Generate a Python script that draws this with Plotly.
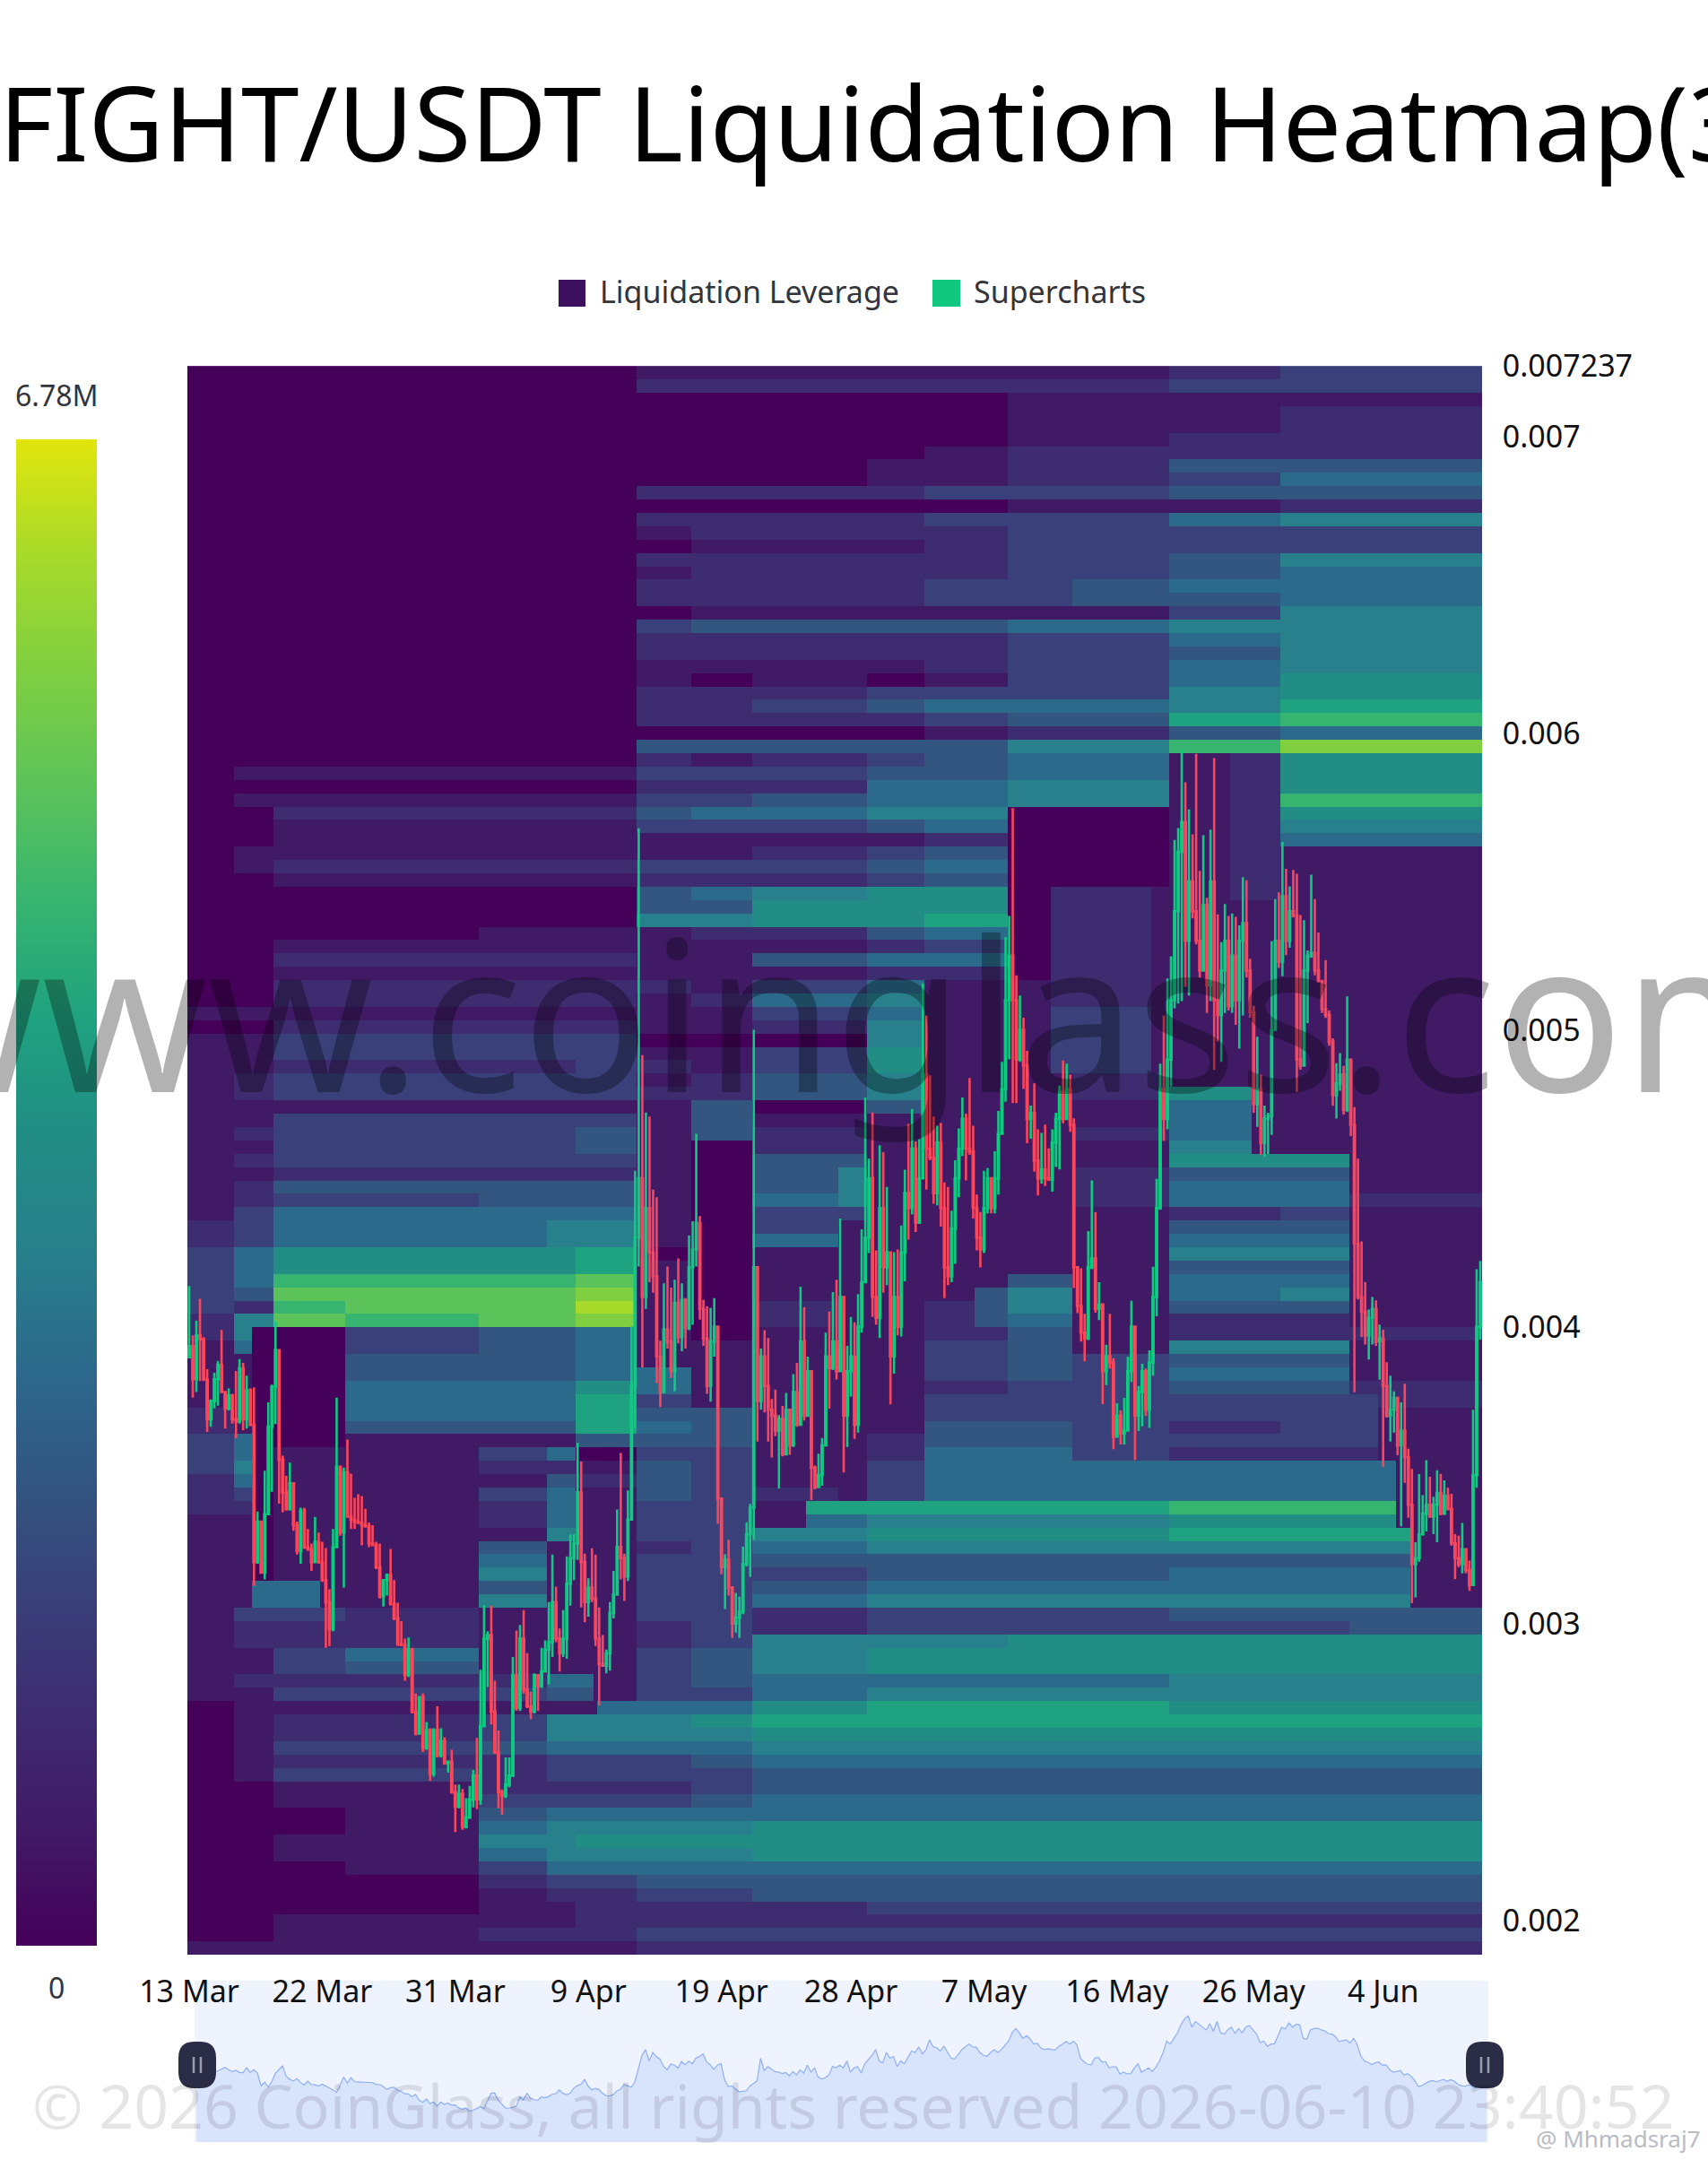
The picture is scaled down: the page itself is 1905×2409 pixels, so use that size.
import numpy as np
import pandas as pd
import plotly.graph_objects as go

W, H = 1905, 2409
def px(x): return x / W
def py(y): return 1 - y / H

title_text = "FIGHT/USDT Liquidation Heatmap(3 month)"
tick_prices = [0.002, 0.003, 0.004, 0.005, 0.006, 0.007, 0.007237]
tick_price_text = ["0.002", "0.003", "0.004", "0.005", "0.006", "0.007", "0.007237"]
tick_index = [0, 37, 74, 111, 148, 184, 221, 258, 296, 332]
tick_date_text = ["13 Mar", "22 Mar", "31 Mar", "9 Apr", "19 Apr", "28 Apr", "7 May", "16 May", "26 May", "4 Jun"]
z_max = 6.78e6
price_low, price_high = 0.001884, 0.007237

# candles, 6-hourly, in millionths of a USDT
high = [
4137,3971,4020,4094,3965,3857,3755,3845,3885,3989, 3780,3792,3774,3851,3891,3878,3835,3792,3796,3377,
3343,3515,3745,3805,4018,3915,3565,3497,3542,3476, 3343,3390,3390,3318,3269,3359,3306,3275,3254,3115,
3318,3761,3531,3525,3620,3505,3423,3435,3429,3386, 3340,3331,3275,3269,3148,3168,3251,3146,3070,3008,
2949,2953,2918,2764,2754,2764,2668,2647,2647,2721, 2647,2617,2537,2574,2457,2457,2442,2411,2453,2506,
2614,2844,3062,2974,3060,2807,2639,2441,2549,2549, 2887,2976,2995,3045,2900,2770,2832,2807,2918,2943,
3072,3232,3124,2983,3045,3226,3300,3300,3608,3546, 3235,3152,3253,3232,3054,2961,2912,3072,3177,3384,
3574,3235,3448,4001,4525,5679,4915,4722,4708,4462, 4436,3953,4146,4203,4132,4158,4230,4146,4096,4307,
4355,4650,4373,4090,4069,4064,4096,3997,3425,3233, 3282,3126,3103,3090,3259,3341,3403,5000,4185,3926,
3988,3962,3756,3788,3702,3733,3777,3702,3840,3878, 4135,4065,3899,3810,3532,3572,3625,3980,4051,4117,
4158,4364,4060,3935,4033,4015,4110,4328,4772,4566, 4722,4257,4611,4588,4471,4189,4251,4260,4341,4529,
4683,4734,4624,4632,5157,5049,4847,4708,4677,4686, 4486,4471,4391,4561,4668,4772,4718,4838,4677,4445,
4386,4525,4534,4493,4591,4727,4892,5312,5384,5747, 5184,5116,5041,4929,4745,4820,4665,4653,4681,4601,
4665,4721,4812,4897,4886,4849,4702,4202,4197,4043, 4322,4493,4386,4150,4079,3939,4043,3894,3742,3718,
3760,3899,4087,3987,3800,3875,3859,3920,4202,4498, 4886,5049,5173,5248,5640,5680,5943,5834,5743,5659,
5930,5536,5656,5445,5675,5916,5389,5296,5424,5384, 5392,5381,5352,5515,5504,5240,5081,4977,4849,4745,
4721,5299,5441,5463,5633,5543,5484,5539,5526,5387, 5370,5268,5523,5441,5328,5167,5235,5065,4972,4888,
4922,4879,5113,4857,4740,4566,4287,4151,4058,4100, 4089,4007,3990,3880,3835,3782,3753,3745,3808,3589,
3521,3274,3503,3432,3550,3494,3427,3516,3504,3482, 3457,3437,3301,3296,3339,3246,3212,3720,4194,4222,
]
low = [
3897,3761,3780,3817,3817,3645,3663,3725,3734,3780, 3657,3718,3673,3624,3673,3651,3657,3665,3127,3201,
3168,3148,3368,3444,3672,3404,3374,3380,3380,3312, 3232,3201,3251,3244,3177,3214,3201,3140,2918,2924,
2974,3263,3296,3121,3355,3318,3318,3337,3263,3324, 3257,3263,3183,3084,3057,3094,3060,3011,2924,2924,
2807,2820,2697,2623,2626,2567,2574,2469,2484,2549, 2549,2524,2497,2426,2297,2377,2305,2309,2346,2380,
2374,2389,2654,2786,2660,2561,2377,2356,2411,2448, 2487,2706,2705,2764,2715,2678,2697,2705,2783,2838,
2795,2887,2937,2838,2887,2881,3060,3146,3214,3054, 3004,3023,3072,2924,2724,2857,2832,2841,3017,3094,
3148,3076,3143,3349,3657,4203,3863,4060,4150,4114, 3810,3729,3818,3926,3827,3783,3944,3917,3926,3988,
4006,4203,4024,3935,3774,3747,3899,3336,3166,3049, 3094,2951,2969,2951,3031,3192,3157,3282,3613,3720,
3711,3613,3559,3631,3455,3563,3573,3568,3595,3663, 3666,3684,3711,3416,3452,3464,3464,3604,3724,3854,
3822,3872,3509,3595,3765,3622,3643,3980,4158,4248, 4033,4006,3962,4114,4140,3738,3842,3971,3967,4153,
4293,4378,4319,4373,4525,4462,4561,4414,4409,4337, 4096,4140,4150,4212,4436,4575,4493,4579,4364,4257,
4200,4248,4382,4382,4382,4445,4668,4758,4901,4753, 4753,4892,4801,4618,4633,4522,4442,4482,4474,4493,
4455,4538,4530,4685,4697,4657,4130,4046,3950,3883, 3955,4194,4047,4022,3739,3803,3859,3587,3655,3603,
3603,3659,3814,3551,3648,3664,3699,3659,3835,4035, 4394,4626,4665,4809,5073,5089,5097,5145,5116,5376,
5288,5176,5224,5057,5097,4865,4961,4892,5057,5065, 5057,5017,4937,5049,5176,5041,4721,4673,4578,4573,
4582,4646,5082,5209,5181,5252,5277,5379,4791,4866, 4879,5023,5243,5184,5159,5057,5040,4947,4744,4701,
4795,4715,4723,4642,3779,4092,3965,3940,3889,3940, 3935,3821,3528,3694,3613,3643,3567,3327,3474,3356,
3068,3088,3208,3313,3310,3356,3301,3274,3364,3381, 3381,3262,3149,3190,3169,3169,3110,3132,3457,3957,
]
close = [
3934,3823,3971,3958,3823,3688,3749,3823,3872,3780, 3725,3768,3688,3681,3860,3688,3786,3669,3207,3343,
3171,3368,3663,3798,3921,3552,3441,3386,3472,3331, 3244,3380,3257,3251,3207,3275,3207,3146,3072,2980,
3257,3528,3306,3509,3361,3350,3343,3339,3331,3327, 3270,3264,3189,3091,3146,3164,3066,3017,2931,2927,
2826,2912,2703,2629,2752,2580,2641,2494,2641,2555, 2604,2530,2534,2432,2383,2426,2315,2346,2407,2487,
2407,2654,2949,2961,2703,2567,2432,2420,2457,2487, 2826,2715,2949,2777,2721,2703,2826,2789,2838,2912,
2937,3072,2949,2900,2949,3134,3220,3269,3441,3207, 3072,3121,3084,2949,2863,2858,2900,3035,3097,3257,
3220,3158,3350,3800,4300,4500,4100,4400,4250,4170, 3900,3780,3990,3950,3850,4080,3965,4090,3995,4200,
4260,4350,4060,3960,3800,3950,4000,3420,3190,3215, 3120,3000,3020,3040,3200,3300,3390,4200,3750,3900,
3800,3720,3700,3650,3690,3570,3720,3600,3780,3670, 3950,3700,3850,3525,3460,3500,3600,3900,3860,3950,
3850,4100,3700,3850,3900,3670,4000,4150,4300,4500, 4100,4030,4400,4200,4250,3900,4100,4000,4250,4450,
4400,4600,4350,4500,4850,4600,4570,4450,4620,4400, 4200,4170,4330,4500,4600,4700,4600,4590,4400,4300,
4260,4400,4500,4400,4500,4650,4800,5100,5250,5100, 4900,5000,4880,4700,4720,4560,4500,4530,4500,4495,
4620,4700,4790,4700,4800,4680,4200,4070,3980,3960, 4200,4230,4060,4075,3850,3900,3880,3630,3700,3640,
3650,3850,4000,3700,3780,3850,3720,3880,4100,4400, 4800,4700,4900,5100,5400,5600,5700,5300,5500,5400,
5300,5200,5420,5150,5500,5100,5050,5200,5300,5080, 5250,5100,5300,5360,5200,5060,4750,4800,4620,4700,
4710,5000,5300,5230,5450,5300,5400,5385,4900,4880, 5200,5250,5260,5200,5165,5070,5050,4960,4780,4820,
4850,4730,4900,4680,4280,4100,4050,3970,4030,4060, 3950,3960,3800,3700,3720,3760,3600,3650,3560,3400,
3200,3220,3300,3370,3400,3360,3400,3440,3370,3430, 3385,3270,3220,3200,3250,3180,3130,3500,4000,4150,
]
first_open = 3897

# heat table: one string per price band (top to bottom), one hex level per time block
block_edges = [0,13,24,44,81,100,108,125,140,157,189,205,228,246,273,304,323,360]
heat_rows = [
"00000001111111233","00000002222222333","00000000000011111","00000000000011122","00000000000011122",
"00000000000011222","00000000000122222","00000000001122444","00000000001122355","00000002222333444",
"00000000000011122","00000002222333566","00000001222233333","00000000111233333","00000002222233466",
"00000001222233455","00000002222334555","00000002222334455","00000000111111366","00000003444455666",
"00000002222233566","00000002222233466","00000001111233566","00000001010133577","00000002223333677",
"00000002234555688","00000002222344899","00000000000122455","000000044444669bb","00000002123455177",
"01111113334455177","00000002225566177","01111113345566199","00222224556600177","00111113334500166",
"00111111111200155","01111111123400111","01222223334500111","00111112223400111","00000004567701111",
"00000004477701111","00000006677801111","00001111224501111","00111111112301111","00222221145501111",
"00111111112201111","00222222135111111","00222221256111111","11111111135111111","00222221126111111",
"11333330006111111","11333331137111111","11222232137111111",
"12333331246112111","12333332246112711","11111111404111511","11333331411111511","12333341421112511",
"11333341021111611","12333331041111771","11222221041112441","12444441041112551","12334441051112552",
"13555551031111231","23555661031111441","23555661051111551","35777780011111661","35777781011111441",
"359999a1011141551","34aaaab1011161561","329aaac1021261441","26a9aab1021251221","26034451011241222",
"15034451111341661","11044451111343441","11044455111343551","11055575111233442","11055583111333332",
"21055584411333331","21044485411443231","35011144412443331","35113503312553221",
"36112214313555551","25111424313555551","23113514323555551","22112513388888991","11112513356666771",
"11111613367777881","11114112356666661","11115113344444441","11116113334444551","15514113345555551",
"15516113356666661","13321113323333444","12221112323333334","12221112366677777","11351113467777777",
"11341113467777777","12222553455555666","11333443356666666","01111155578888777","01223666788888888",
"01223666677777777","01334555566666666","01222333455555555","01332333344444444","00112222344444444",
"00113333455555555","00014555555555555","00015666677777777","00116677777777777","00115666677777777",
"00013555555555555","00002334444444444","00001223344444444","00001122223333333","00111122222222222",
"00112223333333333","11111112222222222",
]
# blocks that do not follow the time grid: first column, end column, first band, last band, level
patch_c0 = [157,181,181,18,13,37,113,108,296,290,240,240,219]
patch_c1 = [172,189,189,24,18,44,125,114,304,304,268,268,228]
patch_r0 = [85,60,64,72,91,91,98,100,54,29,39,48,69]
patch_r1 = [86,62,84,90,92,92,99,100,58,39,47,52,71]
patch_lv = [1,6,1,0,1,1,1,1,1,2,2,3,4]
# bands whose level runs on past the block edge
run_r0 = [77,82,87]
run_r1 = [81,86,92]
run_end = [331,336,340]

level_colors = ["#45005a","#411a66","#3e2c70","#39407a","#325680","#2c6a8b","#27808b",
                "#218d84","#1fa27f","#36b470","#5cc35a","#7fcf40","#a7da2a","#e1e60c"]

n_cols, n_rows = block_edges[-1], len(heat_rows)
levels = np.zeros((n_rows, n_cols))
for r, row in enumerate(heat_rows):
    assert len(row) == 17, (r, row)
    for k, ch in enumerate(row):
        levels[r, block_edges[k]:block_edges[k + 1]] = int(ch, 16)
for c0, c1, r0, r1, lv in zip(patch_c0, patch_c1, patch_r0, patch_r1, patch_lv):
    levels[r0:r1 + 1, c0:c1] = lv
for r0, r1, end in zip(run_r0, run_r1, run_end):
    levels[r0:r1 + 1, 323:end] = levels[r0:r1 + 1, 310:311]
z = levels / 13 * z_max

dates = pd.date_range("2026-03-13", periods=360, freq="6h")
band = (price_high - price_low) / n_rows
band_prices = [price_high - band * (i + 0.5) for i in range(n_rows)]
m = 1e-6
p_high = [v * m for v in high]
p_low = [v * m for v in low]
p_close = [v * m for v in close]
p_open = [first_open * m] + p_close[:-1]

fig = go.Figure()
fig.add_trace(go.Heatmap(
    x=dates, y=band_prices, z=z, zmin=0, zmax=z_max,
    colorscale=[[i / 13, c] for i, c in enumerate(level_colors)],
    hoverinfo="skip",
    colorbar=dict(x=px(18), xanchor="left", xpad=0, y=py(490), yanchor="top", ypad=0,
                  lenmode="pixels", len=1680, thicknessmode="pixels", thickness=90,
                  outlinewidth=0, ticks="", showticklabels=False),
))
fig.add_trace(go.Candlestick(
    x=dates, open=p_open, high=p_high, low=p_low, close=p_close, hoverinfo="skip",
    increasing=dict(line=dict(color="#0ecb81", width=2.6), fillcolor="#0ecb81"),
    decreasing=dict(line=dict(color="#f8465d", width=2.6), fillcolor="#f8465d"),
    whiskerwidth=0,
))
fig.add_trace(go.Scatter(
    x=dates, y=p_close, xaxis="x2", yaxis="y2", mode="lines", hoverinfo="skip",
    line=dict(color="#8fb0f5", width=1.2), fill="tozeroy", fillcolor="#d8e3fc",
))

half = pd.Timedelta(hours=3)
tick_font = dict(family="Noto Sans", size=34, color="#111111")
small = dict(family="Noto Sans", size=32, color="#33353a")

def rounded(x0, y0, x1, y1, rad):
    a, b, c, d = px(x0), px(x1), py(y0), py(y1)
    rx, ry = rad / W, rad / H
    return (f"M{a+rx},{c} L{b-rx},{c} Q{b},{c} {b},{c-ry} L{b},{d+ry} Q{b},{d} {b-rx},{d} "
            f"L{a+rx},{d} Q{a},{d} {a},{d+ry} L{a},{c-ry} Q{a},{c} {a+rx},{c} Z")

shapes = [
    dict(type="rect", xref="paper", yref="paper", x0=px(217), x1=px(1660), y0=py(2389), y1=py(2209),
         fillcolor="#eff3fe", line_width=0, layer="below"),
    dict(type="rect", xref="paper", yref="paper", x0=px(623), x1=px(653), y0=py(342), y1=py(312),
         fillcolor="#3d0f5f", line_width=0),
    dict(type="rect", xref="paper", yref="paper", x0=px(1040), x1=px(1071), y0=py(342), y1=py(312),
         fillcolor="#10c77f", line_width=0),
]
for cx in (220, 1656):
    shapes.append(dict(type="path", xref="paper", yref="paper", path=rounded(cx - 21, 2277, cx + 21, 2329, 18),
                       fillcolor="#2a2d45", line_width=0))
    for dx in (-4, 4):
        shapes.append(dict(type="line", xref="paper", yref="paper", x0=px(cx + dx), x1=px(cx + dx),
                           y0=py(2294), y1=py(2312), line=dict(color="#9a9cab", width=2.5)))

def note(text, x, y, font, xanchor="left"):
    return dict(text=text, xref="paper", yref="paper", x=px(x), y=py(y), xanchor=xanchor, yanchor="middle",
                showarrow=False, font=font, borderpad=0)

annotations = [
    note(title_text, -2, 135, dict(family="Noto Sans", size=116, color="#000000")),
    note("Liquidation Leverage", 668, 325, dict(family="Noto Sans", size=34, color="#33353a")),
    note("Supercharts", 1085, 325, dict(family="Noto Sans", size=34, color="#33353a")),
    note("6.78M", 63, 440, small, "center"),
    note("0", 63, 2216, small, "center"),
    note("www.coinglass.com", 946, 1127, dict(family="Noto Sans", size=235, color="rgba(0,0,0,0.3)"), "center"),
    note("© 2026 CoinGlass, all rights reserved 2026-06-10 23:40:52", 952, 2347,
         dict(family="Noto Sans", size=68, color="rgba(0,0,0,0.1)"), "center"),
    note("@ Mhmadsraj7", 1898, 2385, dict(family="Noto Sans", size=26, color="#b9bcc4"), "right"),
]

fig.update_layout(
    width=W, height=H, autosize=False, margin=dict(l=0, r=0, t=0, b=0, autoexpand=False),
    paper_bgcolor="white", plot_bgcolor="white", showlegend=False,
    shapes=shapes, annotations=annotations, boxgap=0.55,
    xaxis=dict(domain=[px(209), px(1653)], range=[dates[0] - half, dates[-1] + half], type="date",
               tickmode="array", tickvals=[dates[i] for i in tick_index], ticktext=tick_date_text, tickangle=0,
               ticks="outside", ticklen=11, tickcolor="rgba(0,0,0,0)", tickfont=tick_font,
               showgrid=False, zeroline=False, showline=False, rangeslider=dict(visible=False),
               anchor="y"),
    yaxis=dict(domain=[py(2180), py(408)], range=[price_low, price_high + 5e-7], side="right",
               tickmode="array", tickvals=tick_prices, ticktext=tick_price_text,
               ticks="outside", ticklen=15, tickcolor="rgba(0,0,0,0)", tickfont=tick_font,
               showgrid=False, zeroline=False, showline=False, anchor="x"),
    xaxis2=dict(domain=[px(217), px(1660)], range=[dates[0] - half, dates[-1] + half], type="date",
                visible=False, anchor="y2"),
    yaxis2=dict(domain=[py(2389), py(2209)], range=[0.001217, 0.00695], visible=False, anchor="x2"),
)

fig.write_html("out.html", config=dict(displayModeBar=False),
               post_script="document.body.style.margin='0';document.body.style.overflow='hidden';")
